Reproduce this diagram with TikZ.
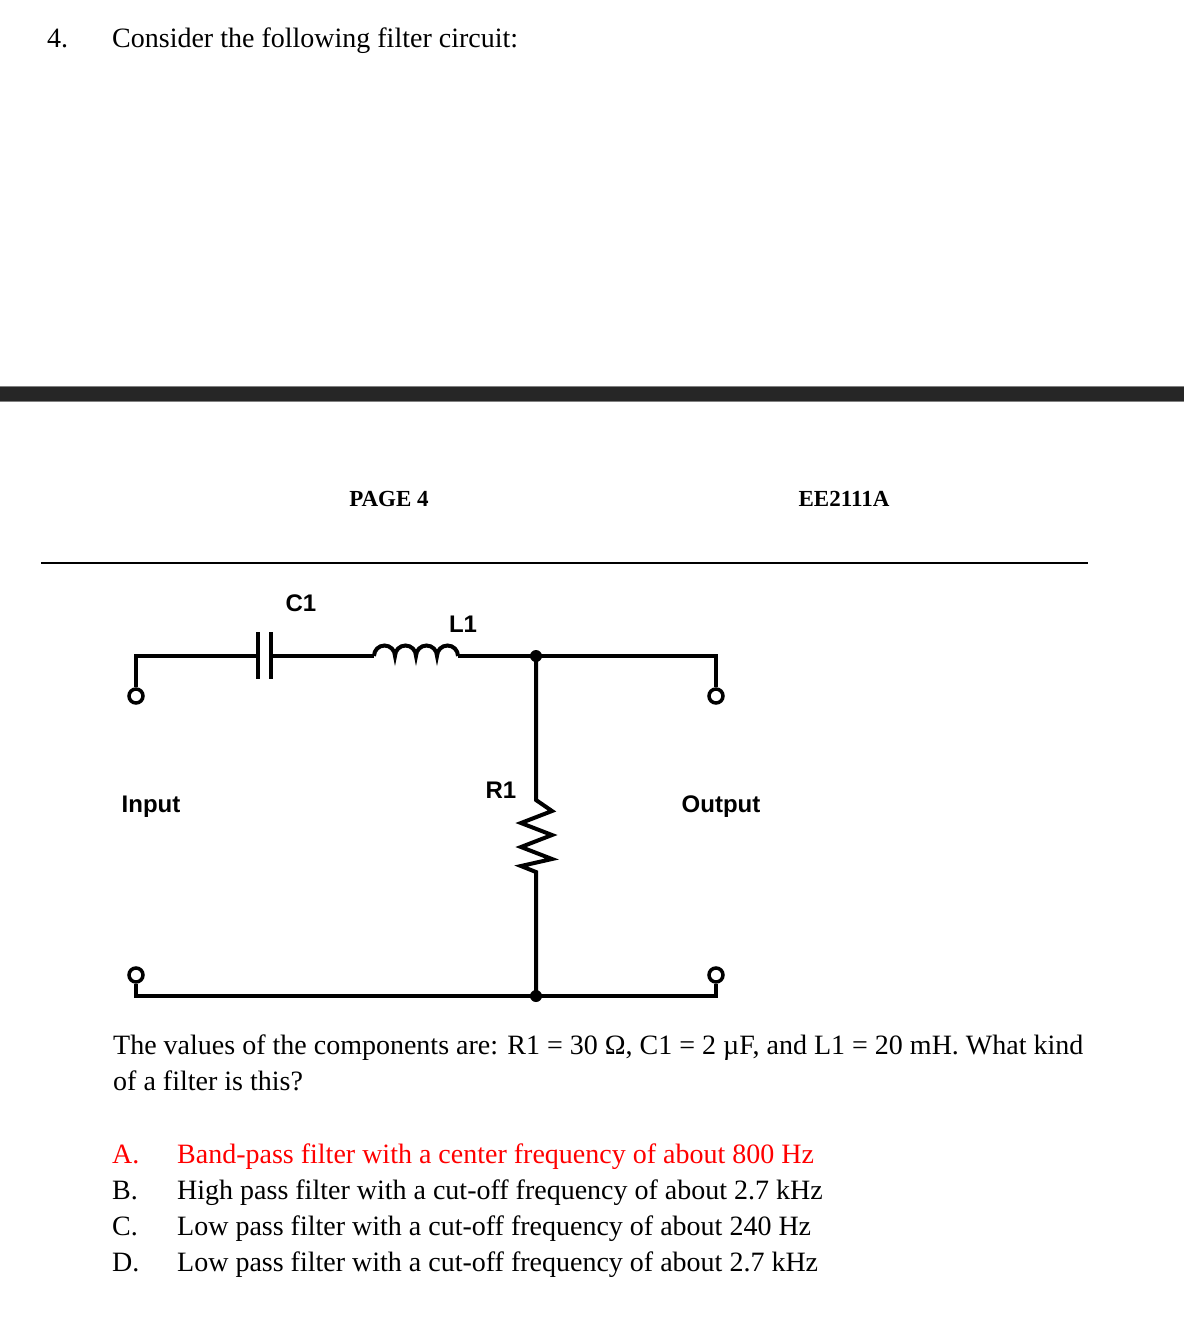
\documentclass[tikz,border=0pt]{standalone}
\usepackage{fontspec}
\setmainfont{Liberation Serif}
\newfontfamily\arialf{Liberation Sans}
\begin{document}
\begin{tikzpicture}[x=1pt,y=-1pt,
  wire/.style={line width=4pt},
  lbl/.style={font=\arialf\bfseries\fontsize{24}{28}\selectfont,inner sep=0},
  txt/.style={font=\fontsize{28}{32}\selectfont,anchor=base west,inner sep=0},
  term/.style={circle,draw,line width=3.5pt,minimum size=14pt,inner sep=0,fill=white},
  dot/.style={circle,fill,minimum size=12pt,inner sep=0}]
\useasboundingbox (0,0) rectangle (1184,1318);
\node[txt] (n4) at (47,47) {4.};
\node[txt] (q) at (112,47) {Consider the following filter circuit:};
% band
\fill[black!85] (0,386) rectangle (1184,402);
\draw[gray,line width=1pt] (0,386.5) -- (1184,386.5) (0,401.5) -- (1184,401.5);
\node[font=\bfseries\fontsize{23}{27}\selectfont,inner sep=0] (pg) at (389,499) {PAGE 4};
\node[font=\bfseries\fontsize{23}{27}\selectfont,inner sep=0] (ee) at (844,499) {EE2111A};
\draw[line width=2.2pt] (41,563) -- (1088,563);
% circuit
\coordinate (tl) at (136,656);
\coordinate (c1a) at (258,656);
\coordinate (c1b) at (271,656);
\coordinate (l1a) at (374,656);
\coordinate (l1b) at (458,656);
\coordinate (j1) at (536,656);
\coordinate (tr) at (716,656);
\coordinate (r1a) at (536,800);
\coordinate (r1b) at (536,872);
\coordinate (j2) at (536,996);
\coordinate (br) at (716,996);
\node[term] (tin) at (136,696) {};
\node[term] (tout) at (716,696) {};
\node[term] (bin) at (136,975) {};
\node[term] (bout) at (716,975) {};
\draw[wire] (tin.north) -- (tl) -- (c1a);
\draw[wire] (258,632) -- (258,679) (271,632) -- (271,679);
\draw[wire] (c1b) -- (l1a);
\draw[wire] (l1a) arc[start angle=180,end angle=360,radius=10.5]
  arc[start angle=180,end angle=360,radius=10.5]
  arc[start angle=180,end angle=360,radius=10.5]
  arc[start angle=180,end angle=360,radius=10.5];
\draw[wire] (l1b) -- (j1) -- (tr) -- (tout.north);
\draw[wire] (j1) -- (r1a) -- (552,811) -- (521,823) -- (552,835) -- (521,847) -- (552,859) -- (521,866) -- (r1b) -- (j2);
\draw[wire] (bin.south) -- (136,996) -- (br) -- (bout.south);
\node[dot] (d1) at (j1) {};
\node[dot] (d2) at (j2) {};
\node[lbl] (lc) at (301,603) {C1};
\node[lbl] (ll) at (463,624) {L1};
\node[lbl] (lr) at (501,790) {R1};
\node[lbl] (lin) at (151,807) {Input};
\node[lbl] (lout) at (721,807) {Output};
% text
\node[txt] (p1) at (113,1054) {The values of the components are: R1 = 30 Ω, C1 = 2 µF, and L1 = 20 mH. What kind};
\node[txt] (p2) at (113,1090) {of a filter is this?};
\node[txt,red] (a1) at (112,1163) {A.};
\node[txt,red] (a2) at (177,1163) {Band-pass filter with a center frequency of about 800 Hz};
\node[txt] (b1) at (112,1199) {B.};
\node[txt] (b2) at (177,1199) {High pass filter with a cut-off frequency of about 2.7 kHz};
\node[txt] (c1) at (112,1235) {C.};
\node[txt] (c2) at (177,1235) {Low pass filter with a cut-off frequency of about 240 Hz};
\node[txt] (d1t) at (112,1271) {D.};
\node[txt] (d2t) at (177,1271) {Low pass filter with a cut-off frequency of about 2.7 kHz};
\end{tikzpicture}
\end{document}
